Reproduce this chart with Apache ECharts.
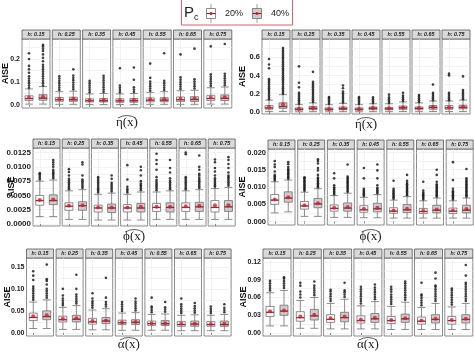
<!DOCTYPE html>
<html>
<head>
<meta charset="utf-8">
<script src="https://cdn.jsdelivr.net/npm/echarts@6/dist/echarts.min.js"></script>
<style>
  html, body { margin: 0; padding: 0; background: #fff; }
  #chart { width: 474px; height: 352px; }
</style>
</head>
<body>
<div id="chart"></div>
<script>
  var hLabels = ['h: 0.15', 'h: 0.25', 'h: 0.35', 'h: 0.45', 'h: 0.55', 'h: 0.65', 'h: 0.75'];
  var groups = ['20%', '40%'];

  // rows: [lower whisker, Q1, median, Q3, upper whisker, mean]
  // eta(x), left panel
  var etaA20 = [
    [0.004, 0.020, 0.028, 0.040, 0.070, 0.033],
    [0.003, 0.016, 0.023, 0.033, 0.058, 0.026],
    [0.002, 0.013, 0.019, 0.027, 0.048, 0.021],
    [0.002, 0.012, 0.018, 0.027, 0.048, 0.021],
    [0.003, 0.014, 0.021, 0.031, 0.055, 0.024],
    [0.003, 0.015, 0.023, 0.035, 0.062, 0.027],
    [0.004, 0.019, 0.028, 0.042, 0.075, 0.033]
  ];
  var etaA40 = [
    [0.004, 0.021, 0.030, 0.045, 0.080, 0.036],
    [0.003, 0.016, 0.023, 0.034, 0.060, 0.027],
    [0.002, 0.013, 0.019, 0.028, 0.050, 0.022],
    [0.002, 0.012, 0.019, 0.028, 0.050, 0.022],
    [0.003, 0.014, 0.021, 0.032, 0.058, 0.025],
    [0.003, 0.015, 0.024, 0.036, 0.064, 0.028],
    [0.004, 0.019, 0.029, 0.044, 0.078, 0.034]
  ];
  var etaA20Out = [
    [0.075, 0.085, 0.095, 0.105, 0.115, 0.125, 0.14, 0.155, 0.17, 0.2, 0.225],
    [0.065, 0.075, 0.085, 0.095, 0.105, 0.115, 0.125],
    [0.055, 0.065, 0.075, 0.085, 0.095, 0.105],
    [0.055, 0.065, 0.075, 0.085, 0.16],
    [0.062, 0.072, 0.082, 0.092, 0.102, 0.118, 0.18],
    [0.07, 0.08, 0.09, 0.1, 0.11, 0.12, 0.22],
    [0.083, 0.093, 0.103, 0.113, 0.123, 0.133, 0.255]
  ];
  var etaA40Out = [
    [0.085, 0.095, 0.105, 0.115, 0.125, 0.135, 0.145, 0.155, 0.165, 0.175, 0.19, 0.205, 0.22, 0.235, 0.245, 0.255, 0.262],
    [0.068, 0.078, 0.088, 0.098, 0.108, 0.118, 0.128, 0.155],
    [0.057, 0.067, 0.077, 0.087, 0.097, 0.107, 0.117, 0.127],
    [0.057, 0.067, 0.077, 0.11, 0.163],
    [0.065, 0.075, 0.085, 0.095, 0.105, 0.225],
    [0.072, 0.082, 0.092, 0.102, 0.112, 0.245],
    [0.086, 0.096, 0.106, 0.116, 0.126, 0.136, 0.265]
  ];

  // eta(x), right panel
  var etaB20 = [
    [0.005, 0.030, 0.045, 0.070, 0.130, 0.055],
    [0.003, 0.020, 0.030, 0.045, 0.080, 0.035],
    [0.003, 0.020, 0.030, 0.045, 0.080, 0.034],
    [0.003, 0.020, 0.030, 0.045, 0.080, 0.034],
    [0.004, 0.025, 0.035, 0.050, 0.090, 0.040],
    [0.004, 0.025, 0.040, 0.055, 0.100, 0.045],
    [0.005, 0.030, 0.045, 0.070, 0.120, 0.052]
  ];
  var etaB40 = [
    [0.006, 0.040, 0.060, 0.100, 0.190, 0.085],
    [0.004, 0.025, 0.040, 0.060, 0.100, 0.045],
    [0.004, 0.025, 0.035, 0.055, 0.095, 0.040],
    [0.004, 0.025, 0.040, 0.055, 0.090, 0.043],
    [0.005, 0.030, 0.045, 0.065, 0.110, 0.050],
    [0.005, 0.030, 0.050, 0.070, 0.120, 0.055],
    [0.005, 0.035, 0.050, 0.075, 0.130, 0.058]
  ];
  var etaB20Out = [
    [0.14, 0.16, 0.18, 0.2, 0.22, 0.24, 0.26, 0.28, 0.3, 0.32, 0.34, 0.36, 0.48, 0.52, 0.58],
    [0.09, 0.11, 0.13, 0.15, 0.17, 0.19, 0.21, 0.27, 0.32, 0.5],
    [0.09, 0.11, 0.13, 0.15, 0.165],
    [0.09, 0.11, 0.13, 0.15, 0.165],
    [0.1, 0.12, 0.14, 0.16, 0.19],
    [0.11, 0.13, 0.15, 0.17, 0.185],
    [0.13, 0.15, 0.17, 0.19, 0.21, 0.4, 0.42]
  ];
  var etaB40Out = [
    [0.2, 0.22, 0.24, 0.26, 0.28, 0.3, 0.32, 0.34, 0.36, 0.38, 0.4, 0.42, 0.44, 0.46, 0.48, 0.5, 0.52, 0.54, 0.56, 0.58, 0.6, 0.62, 0.64, 0.66, 0.68, 0.7],
    [0.11, 0.13, 0.15, 0.17, 0.19, 0.21, 0.23, 0.25, 0.27, 0.29, 0.31, 0.33, 0.44],
    [0.105, 0.125, 0.145, 0.165, 0.185, 0.205, 0.225, 0.26, 0.29],
    [0.1, 0.12, 0.14, 0.16],
    [0.12, 0.14, 0.16, 0.18, 0.21],
    [0.13, 0.15, 0.17, 0.19, 0.21, 0.3],
    [0.14, 0.16, 0.18, 0.2, 0.22, 0.24, 0.39]
  ];

  // phi(x), left panel
  var phiA20 = [
    [0.0013, 0.0033, 0.0041, 0.0050, 0.0075, 0.0042],
    [0.0008, 0.0024, 0.0031, 0.0037, 0.0058, 0.0032],
    [0.0007, 0.0021, 0.0028, 0.0033, 0.0052, 0.0029],
    [0.0007, 0.0021, 0.0028, 0.0034, 0.0052, 0.0029],
    [0.0008, 0.0022, 0.0029, 0.0036, 0.0056, 0.0030],
    [0.0008, 0.0022, 0.0029, 0.0037, 0.0058, 0.0031],
    [0.0008, 0.0021, 0.0029, 0.0041, 0.0062, 0.0033]
  ];
  var phiA40 = [
    [0.0013, 0.0034, 0.0041, 0.0051, 0.0077, 0.0043],
    [0.0008, 0.0024, 0.0032, 0.0039, 0.0060, 0.0033],
    [0.0007, 0.0020, 0.0028, 0.0035, 0.0054, 0.0029],
    [0.0007, 0.0021, 0.0028, 0.0036, 0.0056, 0.0030],
    [0.0008, 0.0021, 0.0029, 0.0037, 0.0058, 0.0030],
    [0.0008, 0.0022, 0.0030, 0.0038, 0.0060, 0.0032],
    [0.0008, 0.0022, 0.0030, 0.0041, 0.0064, 0.0033]
  ];
  var phiA20Out = [
    [0.0078, 0.0081, 0.0084, 0.0087, 0.0089],
    [0.0061, 0.0064, 0.0067, 0.007, 0.0073, 0.0076, 0.0079, 0.0085, 0.0091, 0.0096],
    [0.0055, 0.0058, 0.0061, 0.0064, 0.0067, 0.007, 0.0073, 0.0076, 0.0079, 0.0082],
    [0.0055, 0.0058, 0.0061, 0.0065, 0.0078, 0.0103],
    [0.0059, 0.0062, 0.0065, 0.0068, 0.0071, 0.0074, 0.0077, 0.0082, 0.0095, 0.0105, 0.0112, 0.0123],
    [0.0061, 0.0064, 0.0067, 0.007, 0.0073, 0.0076, 0.0079, 0.0082, 0.0122, 0.0125],
    [0.0065, 0.0068, 0.0071, 0.0074, 0.0077, 0.008, 0.0085, 0.0092, 0.0098, 0.0108, 0.0113]
  ];
  var phiA40Out = [
    [0.008, 0.0083, 0.0086, 0.0089, 0.0092, 0.0095, 0.01, 0.0104, 0.0108, 0.0112],
    [0.0063, 0.0066, 0.0069, 0.0072, 0.0075, 0.0078, 0.0085, 0.0104, 0.0108],
    [0.0057, 0.006, 0.0063, 0.0066, 0.0069, 0.0072, 0.0079, 0.0085],
    [0.0059, 0.0062, 0.0065, 0.0068, 0.0071, 0.0075, 0.0085, 0.0094, 0.01],
    [0.0061, 0.0064, 0.0067, 0.007, 0.0073, 0.0076, 0.008, 0.009, 0.0098, 0.0112],
    [0.0063, 0.0066, 0.0069, 0.0072, 0.0075, 0.0078, 0.0081, 0.0085, 0.0088, 0.0095, 0.01, 0.012],
    [0.0067, 0.007, 0.0073, 0.0076, 0.0079, 0.0082, 0.0085, 0.009, 0.0098, 0.0105, 0.0112, 0.0117]
  ];

  // phi(x), right panel
  var phiB20 = [
    [0.0025, 0.0050, 0.0062, 0.0078, 0.0115, 0.0064],
    [0.0015, 0.0036, 0.0045, 0.0058, 0.0085, 0.0047],
    [0.0012, 0.0030, 0.0038, 0.0048, 0.0075, 0.0040],
    [0.0011, 0.0027, 0.0034, 0.0046, 0.0070, 0.0037],
    [0.0010, 0.0024, 0.0030, 0.0040, 0.0062, 0.0032],
    [0.0010, 0.0023, 0.0029, 0.0038, 0.0060, 0.0031],
    [0.0010, 0.0023, 0.0030, 0.0039, 0.0060, 0.0032]
  ];
  var phiB40 = [
    [0.0028, 0.0056, 0.0068, 0.0086, 0.0120, 0.0070],
    [0.0015, 0.0040, 0.0051, 0.0067, 0.0095, 0.0053],
    [0.0012, 0.0030, 0.0039, 0.0054, 0.0082, 0.0042],
    [0.0011, 0.0028, 0.0037, 0.0053, 0.0078, 0.0040],
    [0.0010, 0.0026, 0.0034, 0.0049, 0.0072, 0.0037],
    [0.0010, 0.0025, 0.0033, 0.0047, 0.0068, 0.0035],
    [0.0010, 0.0025, 0.0033, 0.0047, 0.0068, 0.0036]
  ];
  var phiB20Out = [
    [0.0119, 0.0123, 0.0127, 0.0131, 0.0135, 0.0145, 0.0158, 0.0165, 0.0175],
    [0.0089, 0.0093, 0.0097, 0.0101, 0.0105, 0.0109, 0.0113, 0.0117, 0.0121, 0.0125, 0.0128],
    [0.0079, 0.0083, 0.0087, 0.0091, 0.0095, 0.0099, 0.0105, 0.0125, 0.014],
    [0.0074, 0.0078, 0.0082, 0.0086, 0.009, 0.0095, 0.0125, 0.0155],
    [0.0066, 0.007, 0.0074, 0.0078, 0.0082, 0.0086, 0.009, 0.0095, 0.0118],
    [0.0064, 0.0068, 0.0072, 0.0076, 0.008, 0.0084, 0.009, 0.0115],
    [0.0064, 0.0068, 0.0072, 0.0076, 0.008, 0.0084, 0.0088, 0.0095, 0.012, 0.0172]
  ];
  var phiB40Out = [
    [0.0124, 0.0128, 0.0132, 0.0136, 0.014, 0.0144, 0.0148, 0.0152, 0.0158, 0.0166, 0.0172],
    [0.0099, 0.0103, 0.0107, 0.0111, 0.0115, 0.0119, 0.0123, 0.0127, 0.0135, 0.0148, 0.0155, 0.0168, 0.0175, 0.018],
    [0.0086, 0.009, 0.0094, 0.0098, 0.0102, 0.0106, 0.011, 0.0114, 0.0118, 0.0122, 0.0126, 0.013, 0.0165],
    [0.0082, 0.0086, 0.009, 0.0094, 0.0098, 0.0105, 0.0125, 0.0148, 0.0165],
    [0.0076, 0.008, 0.0084, 0.0088, 0.0092, 0.0096, 0.01, 0.0104, 0.0108, 0.0112, 0.0118, 0.0135],
    [0.0072, 0.0076, 0.008, 0.0084, 0.0088, 0.0092, 0.0096, 0.01, 0.0104, 0.0108, 0.0115, 0.0135, 0.015],
    [0.0072, 0.0076, 0.008, 0.0084, 0.0088, 0.0092, 0.0096, 0.01, 0.0104, 0.0108, 0.0112, 0.0116, 0.012, 0.0125, 0.0152]
  ];

  // alpha(x), left panel
  var alphaA20 = [
    [0.010, 0.028, 0.035, 0.045, 0.070, 0.038],
    [0.008, 0.025, 0.030, 0.038, 0.058, 0.032],
    [0.007, 0.020, 0.025, 0.033, 0.052, 0.027],
    [0.006, 0.019, 0.023, 0.029, 0.045, 0.024],
    [0.006, 0.017, 0.021, 0.027, 0.042, 0.022],
    [0.005, 0.015, 0.019, 0.026, 0.040, 0.021],
    [0.005, 0.015, 0.019, 0.026, 0.040, 0.020]
  ];
  var alphaA40 = [
    [0.010, 0.030, 0.037, 0.050, 0.075, 0.040],
    [0.008, 0.025, 0.031, 0.040, 0.062, 0.033],
    [0.007, 0.021, 0.027, 0.035, 0.055, 0.028],
    [0.006, 0.019, 0.024, 0.030, 0.046, 0.025],
    [0.006, 0.017, 0.021, 0.028, 0.043, 0.022],
    [0.005, 0.015, 0.020, 0.027, 0.041, 0.021],
    [0.005, 0.015, 0.019, 0.027, 0.042, 0.021]
  ];
  var alphaA20Out = [
    [0.075, 0.08, 0.085, 0.09, 0.095, 0.1, 0.105, 0.12, 0.13, 0.14],
    [0.063, 0.068, 0.073, 0.078, 0.085, 0.1],
    [0.057, 0.062, 0.067, 0.072, 0.078, 0.09],
    [0.05, 0.055, 0.06, 0.065, 0.07],
    [0.047, 0.052, 0.057, 0.06, 0.08],
    [0.045, 0.05, 0.055, 0.06, 0.065, 0.078],
    [0.045, 0.05, 0.055, 0.06]
  ];
  var alphaA40Out = [
    [0.08, 0.085, 0.09, 0.095, 0.1, 0.11, 0.118, 0.122, 0.155],
    [0.067, 0.072, 0.077, 0.082, 0.087, 0.1, 0.132],
    [0.06, 0.065, 0.07, 0.08, 0.125],
    [0.051, 0.056, 0.061, 0.066, 0.071, 0.078],
    [0.048, 0.053, 0.058, 0.07],
    [0.046, 0.051, 0.056, 0.061, 0.068],
    [0.047, 0.052, 0.057, 0.065]
  ];

  // alpha(x), right panel
  var alphaB20 = [
    [0.012, 0.028, 0.035, 0.045, 0.068, 0.037],
    [0.008, 0.020, 0.026, 0.036, 0.055, 0.028],
    [0.007, 0.018, 0.023, 0.031, 0.050, 0.025],
    [0.007, 0.017, 0.021, 0.029, 0.046, 0.023],
    [0.006, 0.016, 0.021, 0.028, 0.045, 0.022],
    [0.006, 0.015, 0.020, 0.027, 0.043, 0.021],
    [0.006, 0.015, 0.021, 0.028, 0.044, 0.022]
  ];
  var alphaB40 = [
    [0.012, 0.030, 0.037, 0.047, 0.072, 0.038],
    [0.008, 0.022, 0.029, 0.040, 0.060, 0.031],
    [0.007, 0.019, 0.026, 0.035, 0.057, 0.028],
    [0.007, 0.018, 0.024, 0.033, 0.053, 0.026],
    [0.006, 0.018, 0.024, 0.032, 0.052, 0.025],
    [0.006, 0.017, 0.023, 0.031, 0.050, 0.024],
    [0.006, 0.017, 0.023, 0.031, 0.050, 0.024]
  ];
  var alphaB20Out = [
    [0.072, 0.076, 0.08, 0.084, 0.088],
    [0.06, 0.065, 0.07, 0.08, 0.085],
    [0.054, 0.058, 0.062, 0.066, 0.07, 0.073],
    [0.05, 0.054, 0.058, 0.062, 0.066, 0.07, 0.074, 0.078],
    [0.049, 0.053, 0.057, 0.061, 0.065, 0.07, 0.074, 0.078],
    [0.047, 0.051, 0.055, 0.059, 0.063, 0.065, 0.085],
    [0.048, 0.052, 0.056, 0.06, 0.064, 0.068, 0.072, 0.075]
  ];
  var alphaB40Out = [
    [0.076, 0.08, 0.084, 0.088, 0.092, 0.094],
    [0.064, 0.068, 0.072, 0.076, 0.08, 0.087],
    [0.061, 0.065, 0.069, 0.072, 0.085],
    [0.057, 0.061, 0.065, 0.069, 0.073, 0.077, 0.082],
    [0.056, 0.06, 0.064, 0.068, 0.072, 0.076, 0.08, 0.084, 0.087],
    [0.054, 0.058, 0.062, 0.066, 0.07, 0.074, 0.078, 0.08, 0.092, 0.102],
    [0.054, 0.058, 0.062, 0.066, 0.07, 0.074, 0.078, 0.082, 0.085, 0.097, 0.115]
  ];

  // y tick values and labels per panel
  var etaATicks = [0, 0.1, 0.2];
  var etaALabels = ['0.0', '0.1', '0.2'];
  var etaAMinor = [0.05, 0.15, 0.25];
  var etaBTicks = [0, 0.2, 0.4, 0.6];
  var etaBLabels = ['0.0', '0.2', '0.4', '0.6'];
  var etaBMinor = [0.1, 0.3, 0.5, 0.7];
  var phiATicks = [0, 0.0025, 0.005, 0.0075, 0.01, 0.0125];
  var phiALabels = ['0.0000', '0.0025', '0.0050', '0.0075', '0.0100', '0.0125'];
  var phiAMinor = [0.00125, 0.00375, 0.00625, 0.00875, 0.01125];
  var phiBTicks = [0, 0.005, 0.01, 0.015, 0.02];
  var phiBLabels = ['0.000', '0.005', '0.010', '0.015', '0.020'];
  var phiBMinor = [0.0025, 0.0075, 0.0125, 0.0175];
  var alphaATicks = [0, 0.05, 0.1, 0.15];
  var alphaALabels = ['0.00', '0.05', '0.10', '0.15'];
  var alphaAMinor = [0.025, 0.075, 0.125];
  var alphaBTicks = [0, 0.03, 0.06, 0.09, 0.12];
  var alphaBLabels = ['0.00', '0.03', '0.06', '0.09', '0.12'];
  var alphaBMinor = [0.015, 0.045, 0.075, 0.105];

  // layout of the six facetted panels
  var panels = [
    { b20: etaA20, b40: etaA40, o20: etaA20Out, o40: etaA40Out, ticks: etaATicks, labels: etaALabels, minor: etaAMinor,
      yMin: -0.013, yMax: 0.287, x0: 22, step: 30.3, w: 28, top: 39, bottom: 108, gap: 12, fs: 7, titleY: 123, title: 'η(x)' },
    { b20: etaB20, b40: etaB40, o20: etaB20Out, o40: etaB40Out, ticks: etaBTicks, labels: etaBLabels, minor: etaBMinor,
      yMin: -0.022, yMax: 0.80, x0: 262, step: 30, w: 28, top: 39, bottom: 114, gap: 14.5, fs: 7.5, titleY: 125, title: 'η(x)' },
    { b20: phiA20, b40: phiA40, o20: phiA20Out, o40: phiA40Out, ticks: phiATicks, labels: phiALabels, minor: phiAMinor,
      yMin: -0.00035, yMax: 0.0133, x0: 33, step: 29.2, w: 27, top: 148, bottom: 226, gap: 16.5, fs: 8, titleY: 237, title: 'ϕ(x)' },
    { b20: phiB20, b40: phiB40, o20: phiB20Out, o40: phiB40Out, ticks: phiBTicks, labels: phiBLabels, minor: phiBMinor,
      yMin: -0.001, yMax: 0.021, x0: 268, step: 29.7, w: 27, top: 149, bottom: 225, gap: 20.5, fs: 7.5, titleY: 237, title: 'ϕ(x)' },
    { b20: alphaA20, b40: alphaA40, o20: alphaA20Out, o40: alphaA40Out, ticks: alphaATicks, labels: alphaALabels, minor: alphaAMinor,
      yMin: -0.007, yMax: 0.17, x0: 26.5, step: 29.6, w: 27, top: 258, bottom: 336, gap: 14, fs: 7, titleY: 345, title: 'α(x)' },
    { b20: alphaB20, b40: alphaB40, o20: alphaB20Out, o40: alphaB40Out, ticks: alphaBTicks, labels: alphaBLabels, minor: alphaBMinor,
      yMin: -0.005, yMax: 0.1267, x0: 263, step: 30.3, w: 28, top: 258, bottom: 336, gap: 15, fs: 7, titleY: 345, title: 'α(x)' }
  ];

  var chart = echarts.init(document.getElementById('chart'));
  var option = {
    animation: false,
    backgroundColor: '#fff',
    grid: [], xAxis: [], yAxis: [], series: [], graphic: []
  };

  panels.forEach(function (p) {
    for (var k = 0; k < 7; k++) {
      var idx = option.grid.length;
      var left = p.x0 + k * p.step;
      option.grid.push({
        left: left, top: p.top, width: p.w, height: p.bottom - p.top,
        show: true, backgroundColor: '#fff', borderColor: '#6d6d6d', borderWidth: 0.8,
        containLabel: false, outerBoundsMode: 'none'
      });
      option.xAxis.push({
        type: 'category', gridIndex: idx, data: groups,
        axisLine: { show: false },
        axisLabel: { show: false },
        axisTick: { show: true, alignWithLabel: true, length: 2, lineStyle: { color: '#444', width: 0.6 } },
        splitLine: { show: true, alignWithLabel: true, lineStyle: { color: '#ebebeb', width: 0.6 } }
      });
      option.yAxis.push({
        type: 'value', gridIndex: idx, min: p.yMin, max: p.yMax,
        axisLine: { show: false },
        axisTick: { show: false, customValues: p.ticks.concat(p.minor) },
        axisLabel: {
          show: k === 0, customValues: p.ticks, margin: 2,
          fontFamily: 'Liberation Sans', fontSize: p.fs, fontWeight: 'bold', color: '#222',
          formatter: function (v) {
            for (var i = 0; i < p.ticks.length; i++) {
              if (Math.abs(p.ticks[i] - v) < 1e-9) return p.labels[i];
            }
            return '';
          }
        },
        splitLine: { show: true, lineStyle: { color: '#ebebeb', width: 0.6 } },
        name: k === 0 ? 'AISE' : '', nameLocation: 'middle', nameGap: p.gap, nameRotate: 90,
        nameMoveOverlap: false,
        nameTextStyle: { fontFamily: 'Liberation Sans', fontSize: 9, fontWeight: 'bold', color: '#111' }
      });

      var a = p.b20[k], b = p.b40[k];
      option.series.push({
        type: 'boxplot', xAxisIndex: idx, yAxisIndex: idx, silent: true,
        boxWidth: [8, 8],
        itemStyle: { borderColor: '#707070', borderWidth: 0.8 },
        data: [
          { value: a.slice(0, 5), itemStyle: { color: '#ffffff' } },
          { value: b.slice(0, 5), itemStyle: { color: '#cccccc' } }
        ]
      });
      option.series.push({
        type: 'scatter', xAxisIndex: idx, yAxisIndex: idx, silent: true,
        symbol: 'rect', symbolSize: [8, 1.3],
        itemStyle: { color: '#7f1d1d' },
        data: [[0, a[2]], [1, b[2]]]
      });
      var outs = p.o20[k].map(function (v) { return [0, v]; })
        .concat(p.o40[k].map(function (v) { return [1, v]; }));
      option.series.push({
        type: 'scatter', xAxisIndex: idx, yAxisIndex: idx, silent: true,
        symbolSize: 2.6, itemStyle: { color: '#111' },
        data: outs
      });
      option.series.push({
        type: 'scatter', xAxisIndex: idx, yAxisIndex: idx, silent: true,
        symbolSize: 4, itemStyle: { color: '#e3102c' }, z: 4,
        data: [[0, a[5]], [1, b[5]]]
      });

      // strip
      option.graphic.push({
        type: 'rect', silent: true,
        shape: { x: left, y: p.top - 9, width: p.w, height: 9 },
        style: { fill: '#d9d9d9', stroke: '#555', lineWidth: 0.8 }
      });
      option.graphic.push({
        type: 'text', silent: true,
        style: {
          text: hLabels[k], x: left + p.w / 2, y: p.top - 4.3, align: 'center', verticalAlign: 'middle',
          font: 'italic bold 5.3px "Liberation Sans"', fill: '#1a1a1a'
        }
      });
    }

    // x title with wide hat
    var cx = p.x0 + (6 * p.step + p.w) / 2;
    var hy = p.titleY - 8;
    option.graphic.push({
      type: 'bezierCurve', silent: true,
      shape: { x1: cx - 9, y1: hy + 3, x2: cx + 9, y2: hy + 3, cpx1: cx, cpy1: hy - 2 },
      style: { stroke: '#333', lineWidth: 0.8, fill: null }
    });
    option.graphic.push({
      type: 'text', silent: true,
      style: {
        text: p.title, x: cx, y: p.titleY, align: 'center', verticalAlign: 'middle',
        font: '13px "Liberation Serif"', fill: '#222'
      }
    });
  });

  // legend box
  option.graphic.push(
    { type: 'rect', silent: true, shape: { x: 181.5, y: -1, width: 111, height: 26 },
      style: { fill: '#fff', stroke: '#e35d6a', lineWidth: 1 } },
    { type: 'text', silent: true, style: { text: 'P', x: 184, y: 13, verticalAlign: 'middle', font: '15px "Liberation Sans"', fill: '#222' } },
    { type: 'text', silent: true, style: { text: 'c', x: 194, y: 17.5, verticalAlign: 'middle', font: '9px "Liberation Sans"', fill: '#222' } }
  );
  [{ cx: 211, fill: '#ffffff', label: groups[0], tx: 225 }, { cx: 257, fill: '#cccccc', label: groups[1], tx: 271 }].forEach(function (g) {
    option.graphic.push(
      { type: 'line', silent: true, shape: { x1: g.cx, y1: 4, x2: g.cx, y2: 23 }, style: { stroke: '#888', lineWidth: 0.8 } },
      { type: 'rect', silent: true, shape: { x: g.cx - 4.5, y: 8.5, width: 9, height: 10 }, style: { fill: g.fill, stroke: '#707070', lineWidth: 0.8 } },
      { type: 'line', silent: true, shape: { x1: g.cx - 4.5, y1: 13.5, x2: g.cx + 4.5, y2: 13.5 }, style: { stroke: '#7f1d1d', lineWidth: 1 } },
      { type: 'circle', silent: true, shape: { cx: g.cx, cy: 13.5, r: 1.5 }, style: { fill: '#e3102c' } },
      { type: 'text', silent: true, style: { text: g.label, x: g.tx, y: 13.5, verticalAlign: 'middle', font: '9px "Liberation Sans"', fill: '#222' } }
    );
  });

  chart.setOption(option);
</script>
</body>
</html>
